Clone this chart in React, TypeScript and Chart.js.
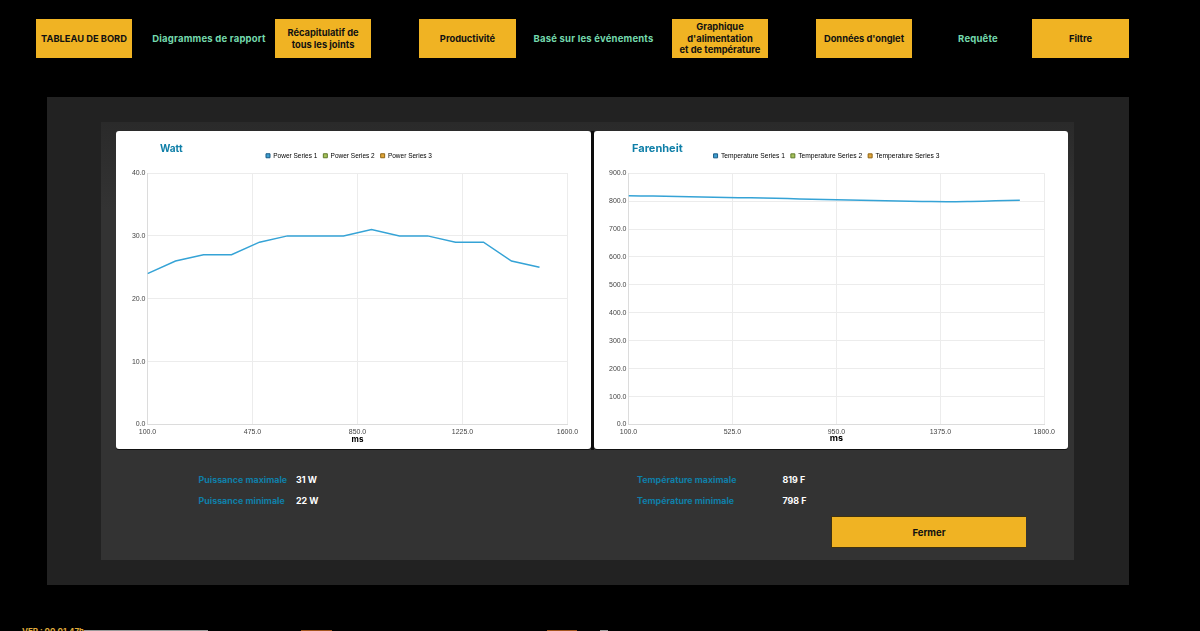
import { useEffect, useRef } from "react";
import type { CSSProperties } from "react";
import Chart from "chart.js/auto";

const POWER_MS = [100, 200, 300, 400, 500, 600, 700, 800, 900, 1000, 1100, 1200, 1300, 1400, 1500];
const POWER_W = [24, 26, 27, 27, 29, 30, 30, 30, 31, 30, 30, 29, 29, 26, 25];
const TEMP_MS = [100, 200, 300, 400, 500, 600, 700, 800, 900, 1000, 1100, 1200, 1300, 1400, 1500, 1600, 1700];
const TEMP_F = [819, 818, 817, 815, 813, 812, 810, 808, 806, 804, 802, 800, 799, 798, 799, 801, 803];

const POWER_SERIES = ["Power Series 1", "Power Series 2", "Power Series 3"];
const TEMP_SERIES = ["Temperature Series 1", "Temperature Series 2", "Temperature Series 3"];
const SWATCH_FILL = ["#3f9fd0", "#a6c25a", "#e0a63a"];
const SWATCH_EDGE = ["#1b5a85", "#5f7a2c", "#8f6415"];

const LINE_COLOR = "#35a3d6";
const GOLD = "#f0b323";
const GREEN = "#74d9ad";
const BLUE_LABEL = "#0f7fa8";
const CHART_FONT = "'Liberation Sans', sans-serif";
const UI_FONT = "Inter, 'Open Sans', sans-serif";

type NavItem = { label: string[]; left: number; width: number; button: boolean };
const NAV_ITEMS: NavItem[] = [
  { label: ["TABLEAU DE BORD"], left: 36, width: 96, button: true },
  { label: ["Diagrammes de rapport"], left: 132, width: 154, button: false },
  { label: ["Récapitulatif de", "tous les joints"], left: 275, width: 96, button: true },
  { label: ["Productivité"], left: 419, width: 97, button: true },
  { label: ["Basé sur les événements"], left: 516, width: 155, button: false },
  { label: ["Graphique", "d'alimentation", "et de température"], left: 672, width: 96, button: true },
  { label: ["Données d'onglet"], left: 816, width: 96, button: true },
  { label: ["Requête"], left: 912, width: 132, button: false },
  { label: ["Filtre"], left: 1032, width: 97, button: true },
];

const STATS = [
  { label: "Puissance maximale", value: "31 W", left: 198.5, valueLeft: 296, top: 479 },
  { label: "Puissance minimale", value: "22 W", left: 198.5, valueLeft: 296, top: 500 },
  { label: "Température maximale", value: "819 F", left: 637, valueLeft: 782.5, top: 479 },
  { label: "Température minimale", value: "798 F", left: 637, valueLeft: 782.5, top: 500 },
];

type PanelChartProps = {
  left: number;
  width: number;
  title: string;
  titleSize: number;
  titleLeft: number;
  seriesNames: string[];
  legendSize: number;
  xs: number[];
  ys: number[];
  xMax: number;
  xStep: number;
  yMax: number;
  yStep: number;
  tension: number;
  plotLeft: number;
  plotRightGap: number;
  msSize: number;
};

// pushes the plot down from the legend without widening the gaps between legend items
const legendGap = {
  id: "legendGap",
  beforeInit(chart: any) {
    const fit = chart.legend.fit;
    chart.legend.fit = function () {
      fit.call(this);
      this.height += 4;
    };
  },
};

function PanelChart(props: PanelChartProps) {
  const canvasRef = useRef<HTMLCanvasElement>(null);

  useEffect(() => {
    if (!canvasRef.current) return;
    const oneDecimal = (v: string | number) => Number(v).toFixed(1);

    const chart = new Chart(canvasRef.current, {
      type: "line",
      plugins: [legendGap],
      data: {
        datasets: props.seriesNames.map((name, i) => ({
          label: name,
          data: i === 0 ? props.xs.map((x, k) => ({ x, y: props.ys[k] })) : [],
          borderColor: LINE_COLOR,
          borderWidth: 1.5,
          pointRadius: 0,
          tension: props.tension,
        })),
      },
      options: {
        animation: false,
        responsive: false,
        layout: { padding: { top: 15.5, right: 9, left: 0, bottom: 0 } },
        plugins: {
          tooltip: { enabled: false },
          legend: {
            position: "top",
            labels: {
              boxWidth: 4,
              boxHeight: 4,
              padding: 6,
              color: "#444",
              font: { family: CHART_FONT, size: props.legendSize },
              generateLabels: () =>
                props.seriesNames.map((name, i) => ({
                  text: name,
                  fillStyle: SWATCH_FILL[i],
                  strokeStyle: SWATCH_EDGE[i],
                  lineWidth: 1,
                  datasetIndex: i,
                })),
            },
          },
        },
        scales: {
          x: {
            type: "linear",
            min: 100,
            max: props.xMax,
            afterBuildTicks: (scale: any) => {
              const ticks = [];
              for (let v = 100; v <= props.xMax; v += props.xStep) ticks.push({ value: v });
              scale.ticks = ticks;
            },
            afterFit: (scale: any) => {
              scale.height = 24.5;
              scale.paddingLeft = 0;
              scale.paddingRight = props.plotRightGap;
            },
            grid: { color: "#ececec", drawTicks: false },
            border: { color: "#dcdcdc", width: 1 },
            ticks: {
              color: "#444",
              padding: 3,
              maxRotation: 0,
              autoSkip: false,
              font: { family: CHART_FONT, size: 7 },
              callback: oneDecimal,
            },
            title: {
              display: true,
              text: "ms",
              color: "#000",
              padding: { top: 0, bottom: 5 },
              font: { family: UI_FONT, size: props.msSize, weight: "bold" },
            },
          },
          y: {
            min: 0,
            max: props.yMax,
            afterFit: (scale: any) => {
              scale.width = props.plotLeft;
              scale.paddingTop = 0;
              scale.paddingBottom = 0;
            },
            grid: { color: "#ececec", drawTicks: false },
            border: { color: "#dcdcdc", width: 1 },
            ticks: {
              stepSize: props.yStep,
              color: "#444",
              padding: 2,
              font: { family: CHART_FONT, size: 7 },
              callback: oneDecimal,
            },
          },
        },
      },
    });

    return () => {
      chart.destroy();
    };
  }, [props]);

  return (
    <div style={{ ...cardStyle, left: props.left, width: props.width }}>
      <canvas
        ref={canvasRef}
        width={props.width}
        height={318}
        style={{ display: "block", width: props.width, height: 318, borderRadius: 3 }}
      />
      <div style={{ ...cardTitle, left: props.titleLeft, fontSize: props.titleSize }}>{props.title}</div>
    </div>
  );
}

const cardStyle: CSSProperties = {
  position: "absolute",
  top: 131,
  height: 318,
  background: "#fff",
  borderRadius: 3,
  boxShadow: "0 1px 0 #111",
};

const cardTitle: CSSProperties = {
  position: "absolute",
  top: 10,
  color: BLUE_LABEL,
  fontFamily: UI_FONT,
  fontWeight: 700,
  lineHeight: "14px",
};

const absBox = (left: number, top: number, width: number, height: number, background: string): CSSProperties => ({
  position: "absolute",
  left,
  top,
  width,
  height,
  background,
});

const POWER_PROPS: PanelChartProps = {
  left: 116,
  width: 475,
  title: "Watt",
  titleSize: 10,
  titleLeft: 44,
  seriesNames: POWER_SERIES,
  legendSize: 6.5,
  xs: POWER_MS,
  ys: POWER_W,
  xMax: 1600,
  xStep: 375,
  yMax: 40,
  yStep: 10,
  tension: 0,
  plotLeft: 31.5,
  plotRightGap: 23.5,
  msSize: 8,
};

const TEMP_PROPS: PanelChartProps = {
  left: 594,
  width: 474,
  title: "Farenheit",
  titleSize: 11,
  titleLeft: 38,
  seriesNames: TEMP_SERIES,
  legendSize: 6.7,
  xs: TEMP_MS,
  ys: TEMP_F,
  xMax: 1800,
  xStep: 425,
  yMax: 900,
  yStep: 100,
  tension: 0.4,
  plotLeft: 34.5,
  plotRightGap: 23.7,
  msSize: 9,
};

export default function App() {
  return (
    <div style={{ position: "fixed", inset: 0, background: "#000", overflow: "hidden", fontFamily: UI_FONT }}>
      {NAV_ITEMS.map((item) => (
        <div
          key={item.label[0]}
          style={{
            ...absBox(item.left, 19, item.width, 39, item.button ? GOLD : "transparent"),
            display: "flex",
            flexDirection: "column",
            alignItems: "center",
            justifyContent: "center",
            color: item.button ? "#111" : GREEN,
            fontSize: item.button ? 9.3 : 9.5,
            letterSpacing: item.button ? 0 : 0.2,
            fontWeight: 700,
            lineHeight: "11.5px",
            textAlign: "center",
          }}
        >
          {item.label.map((line) => (
            <div key={line}>{line}</div>
          ))}
        </div>
      ))}

      <div style={absBox(47, 97, 1082, 488, "#222")} />
      <div style={{ ...absBox(101, 122, 973, 438, "#333"), background: "linear-gradient(#2a2a2a, #333 20%)" }} />
      <div style={absBox(591, 131, 3, 319, "#0c0c0c")} />

      <PanelChart {...POWER_PROPS} />
      <PanelChart {...TEMP_PROPS} />

      {STATS.map((s) => (
        <div key={s.label}>
          <div style={{ ...statText, left: s.left, top: s.top - 5.5, color: BLUE_LABEL }}>{s.label}</div>
          <div style={{ ...statText, left: s.valueLeft, top: s.top - 5.5, color: "#fff" }}>{s.value}</div>
        </div>
      ))}

      <div
        style={{
          ...absBox(831, 516, 195, 32, GOLD),
          boxSizing: "border-box",
          border: "1px solid #3f3210",
          borderRight: "none",
          display: "flex",
          alignItems: "center",
          justifyContent: "center",
          color: "#111",
          fontSize: 9.5,
          fontWeight: 700,
        }}
      >
        Fermer
      </div>

      <div style={{ ...statText, left: 22, top: 625, color: "#e0ac3c", fontSize: 8 }}>VER : 00.01.47h</div>
      <div style={absBox(84, 630, 124, 1, "#999")} />
      <div style={absBox(301, 630, 31, 1, "#a5561f")} />
      <div style={absBox(547, 630, 30, 1, "#a5561f")} />
      <div style={absBox(600, 630, 8, 1, "#999")} />
    </div>
  );
}

const statText: CSSProperties = {
  position: "absolute",
  fontSize: 8.9,
  fontWeight: 700,
  lineHeight: "12px",
  whiteSpace: "nowrap",
};
